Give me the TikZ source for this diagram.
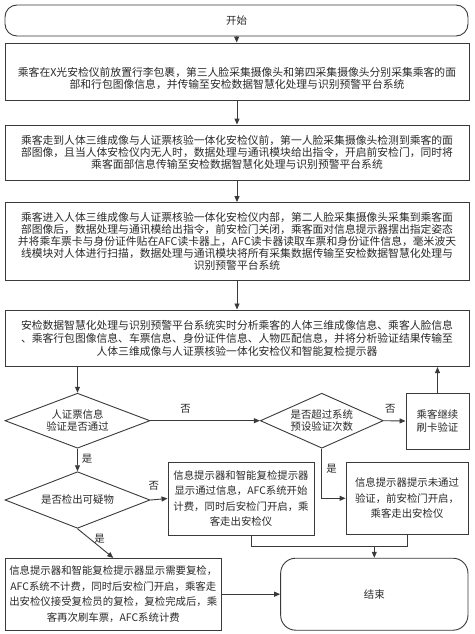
\documentclass[tikz,border=0pt]{standalone}
\usepackage{fontspec}
\setmainfont{Noto Sans CJK SC}
\usetikzlibrary{arrows.meta,shapes.geometric}
\definecolor{ln}{HTML}{3A3A3A}
\definecolor{tx}{HTML}{2A2A2A}
\tikzset{
  base/.style={draw=ln, line width=0.9pt, text=tx, inner sep=2pt, align=center,
    font=\fontsize{10.4pt}{12pt}\selectfont},
  boxa/.style={base, rectangle, font=\fontsize{10.8pt}{12pt}\selectfont},
  boxb/.style={base, rectangle, font=\fontsize{10.4pt}{15.4pt}\selectfont},
  term/.style={base, rectangle, rounded corners=#1},
  dec/.style={base, diamond, aspect=2.6, inner sep=0pt},
  arr/.style={draw=ln, line width=0.9pt, -{Triangle[length=6pt,width=5pt]}},
  ln/.style={draw=ln, line width=0.9pt},
  lbl/.style={text=tx, font=\fontsize{10.4pt}{12pt}\selectfont, inner sep=0pt}
}
\begin{document}
\begin{tikzpicture}[x=1pt,y=-1pt]
\useasboundingbox (0,0) rectangle (474,634);
\fill[white] (0,0) rectangle (474,634);

\node[term=12pt, minimum width=463pt, minimum height=31pt] (start) at (236.5,20.5) {开始};

\node[boxa, minimum width=464pt, minimum height=57pt] (b1) at (237,71.5)
 {\rule{0pt}{23pt}乘客在X光安检仪前放置行李包裹，第三人脸采集摄像头和第四采集摄像头分别采集乘客的面\\
  部和行包图像信息，并传输至安检数据智慧化处理与识别预警平台系统};

\node[boxa, minimum width=464pt, minimum height=55pt] (b2) at (237,152.5)
 {乘客走到人体三维成像与人证票核验一体化安检仪前，第一人脸采集摄像头检测到乘客的面\\
  部图像，且当人体安检仪内无人时，数据处理与通讯模块给出指令，开启前安检门，同时将\\
  乘客面部信息传输至安检数据智慧化处理与识别预警平台系统};

\node[boxa, minimum width=464pt, minimum height=77.5pt] (b3) at (237,241.3)
 {乘客进入人体三维成像与人证票核验一体化安检仪内部，第二人脸采集摄像头采集到乘客面\\
  部图像后，数据处理与通讯模给出指令，前安检门关闭，乘客面对信息提示器摆出指定姿态\\
  并将乘车票卡与身份证件贴在AFC读卡器上，AFC读卡器读取车票和身份证件信息，毫米波天\\
  线模块对人体进行扫描，数据处理与通讯模块将所有采集数据传输至安检数据智慧化处理与\\
  识别预警平台系统};

\node[boxa, minimum width=464pt, minimum height=56.7pt, font=\fontsize{10.8pt}{13pt}\selectfont] (b4) at (237,338.3)
 {安检数据智慧化处理与识别预警平台系统实时分析乘客的人体三维成像信息、乘客人脸信息\\
  、乘客行包图像信息、车票信息、身份证件信息、人物匹配信息，并将分析验证结果传输至\\
  人体三维成像与人证票核验一体化安检仪和智能复检提示器};

\node[dec, minimum width=145pt, minimum height=55pt] (d1) at (77.5,420.7)
 {人证票信息\\验证是否通过};
\node[dec, minimum width=123pt, minimum height=55pt] (d2) at (321.8,420.7)
 {是否超过系统\\预设验证次数};
\node[boxb, minimum width=63pt, minimum height=56pt, font=\fontsize{10.4pt}{13.5pt}\selectfont] (cont) at (437.5,421)
 {乘客继续\\刷卡验证};

\node[dec, minimum width=145pt, minimum height=56.6pt] (d3) at (77.5,500)
 {是否检出可疑物};

\node[boxb, minimum width=146pt, minimum height=73pt] (b5) at (241,498.5)
 {信息提示器和智能复检提示器\\显示通过信息，AFC系统开始\\计费，同时后安检门开启，乘\\客走出安检仪};

\node[boxb, minimum width=122pt, minimum height=72pt] (b6) at (407,498.3)
 {信息提示器提示未通过\\验证，前安检门开启，\\乘客走出安检仪};

\node[boxb, minimum width=216.7pt, minimum height=71.7pt] (b7) at (113.3,594.2)
 {信息提示器和智能复检提示器显示需要复检，\\AFC系统不计费，同时后安检门开启，乘客走\\出安检仪接受复检员的复检，复检完成后，乘\\客再次刷车票，AFC系统计费};

\node[term=15pt, minimum width=187.3pt, minimum height=72pt] (end) at (374.3,594.2) {结束};

% connectors
\draw[arr] (start) -- (b1);
\draw[arr] (b1) -- (b2);
\draw[arr] (b2) -- (b3);
\draw[arr] (b3) -- (b4);
\draw[arr] (b4.south -| d1.north) -- (d1.north);
\draw[arr] (d1.east) -- node[lbl, above=7pt, pos=0.32] {否} (d2.west);
\draw[arr] (d2.east) -- node[lbl, above=7pt, pos=0.3] {否} (cont.west);
\draw[arr] (cont.north) -- (cont.north |- b4.south);
\draw[arr] (d1.south) -- node[lbl, right=4pt, pos=0.45] {是} (d3.north);
\draw[arr] (d2.south) |- node[lbl, right=4pt, pos=0.2] {是} (b6.west);
\draw[arr] (d3.east) -- node[lbl, above=9pt, pos=0.2] {否} (b5.west);
\draw[arr] (d3.south) -- node[lbl, right=4pt, pos=0.35] {是} (b7.north);
\draw[arr] (b7.east) -- (end.west);

\coordinate (j1) at (251.7,546);
\coordinate (jm) at (374.3,546);
\draw[ln] (b5.south -| j1) -- (j1) -- (b6.south |- j1) -- (b6.south);
\draw[arr] (jm) -- (end.north);
\end{tikzpicture}
\end{document}
